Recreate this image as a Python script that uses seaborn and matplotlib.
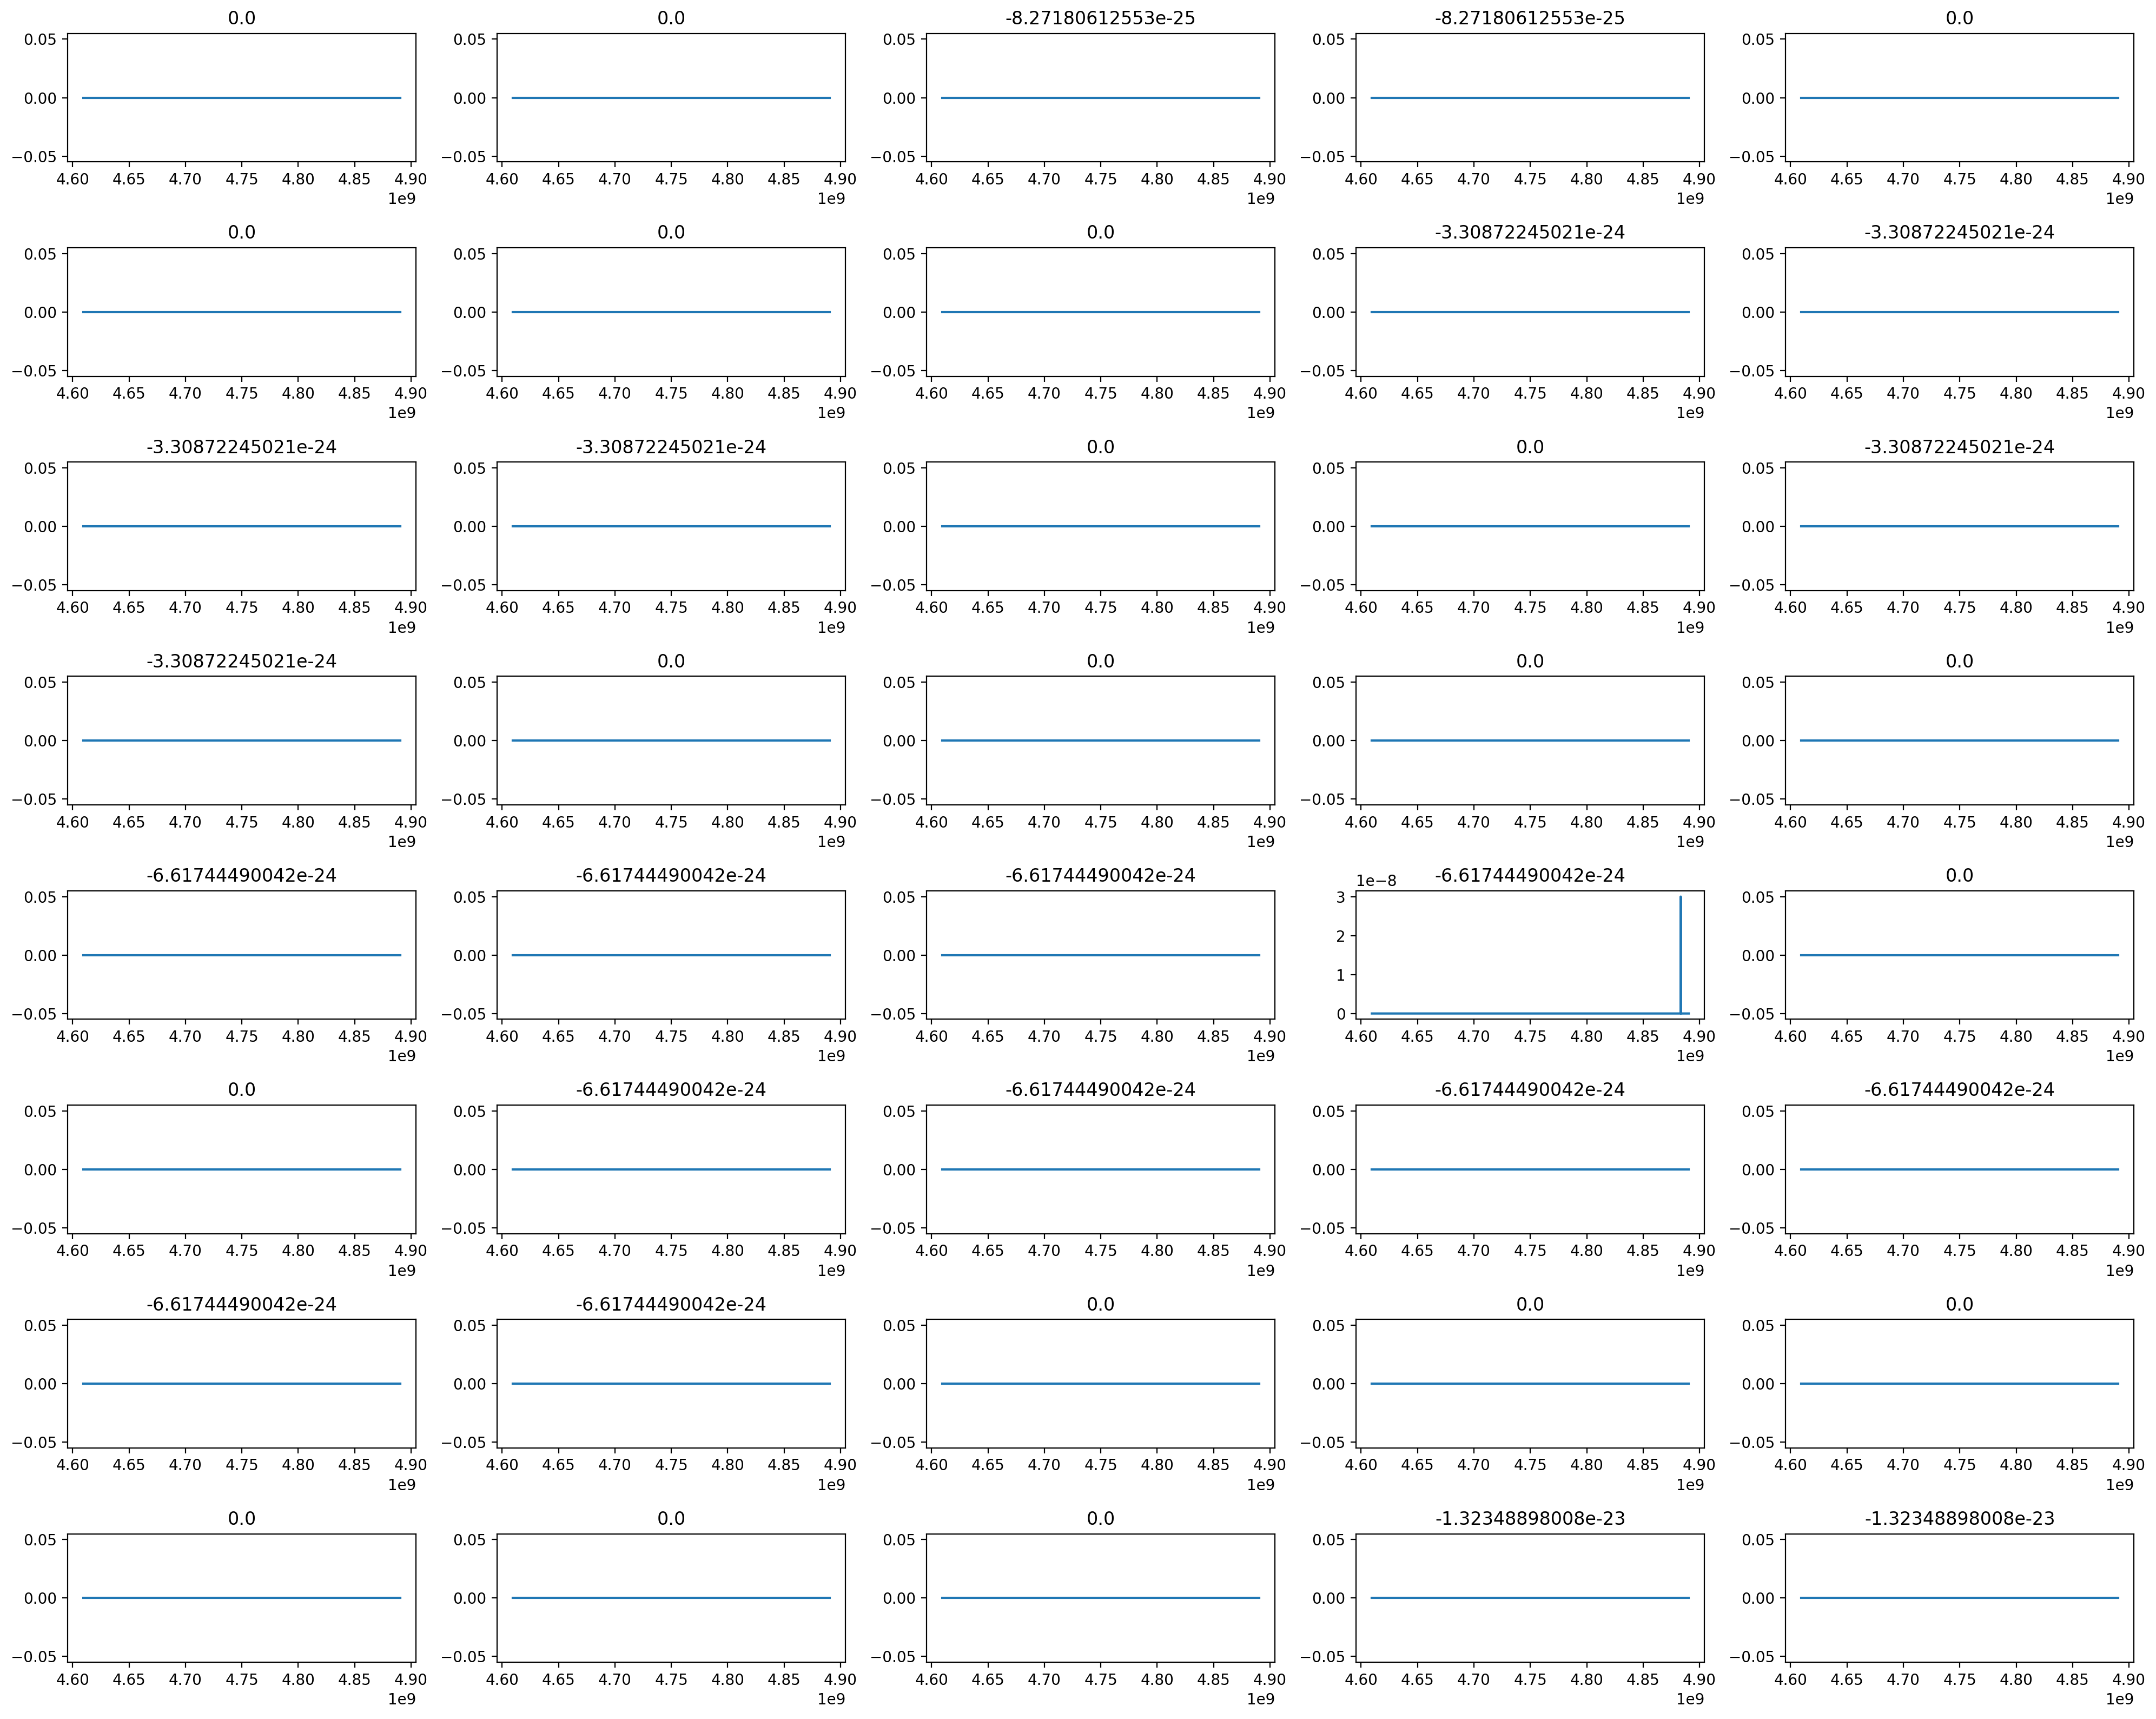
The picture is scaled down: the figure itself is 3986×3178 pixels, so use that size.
import matplotlib
matplotlib.use('Agg')
import matplotlib.pyplot as plt
import seaborn as sns

# sample times (seconds) shared by every panel
times = [4.6095e9, 4.8833e9, 4.8834e9, 4.8835e9, 4.8905e9]

# panel titles, row by row
titles = [
    '0.0', '0.0', '-8.27180612553e-25', '-8.27180612553e-25', '0.0',
    '0.0', '0.0', '0.0', '-3.30872245021e-24', '-3.30872245021e-24',
    '-3.30872245021e-24', '-3.30872245021e-24', '0.0', '0.0', '-3.30872245021e-24',
    '-3.30872245021e-24', '0.0', '0.0', '0.0', '0.0',
    '-6.61744490042e-24', '-6.61744490042e-24', '-6.61744490042e-24', '-6.61744490042e-24', '0.0',
    '0.0', '-6.61744490042e-24', '-6.61744490042e-24', '-6.61744490042e-24', '-6.61744490042e-24',
    '-6.61744490042e-24', '-6.61744490042e-24', '0.0', '0.0', '0.0',
    '0.0', '0.0', '0.0', '-1.32348898008e-23', '-1.32348898008e-23',
]

# series values: flat everywhere except one panel with a spike
flat_values = [0.0, 0.0, 0.0, 0.0, 0.0]
spike_values = [0.0, 0.0, 3e-8, 0.0, 0.0]
spike_panel = 23

fig, axes = plt.subplots(8, 5, figsize=(3987 / 200, 3178 / 200))
fig.subplots_adjust(left=0.03135, right=0.98959, top=0.98059, bottom=0.03295,
                    wspace=0.232, hspace=0.667)

for i, ax in enumerate(axes.flat):
    vals = spike_values if i == spike_panel else flat_values
    sns.lineplot(x=times, y=vals, ax=ax)
    ax.set_title(titles[i])

fig.savefig('out.png', dpi=200)
